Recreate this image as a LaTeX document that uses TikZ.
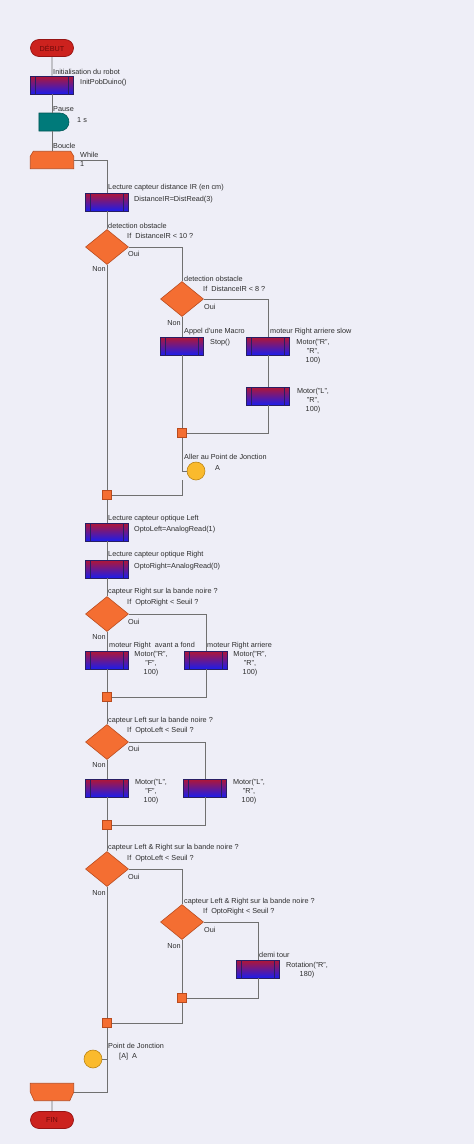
\documentclass[tikz,border=0pt]{standalone}
\usepackage{fontspec}
\setmainfont{Liberation Sans}
\usetikzlibrary{shapes.geometric, shapes.misc, positioning}

\definecolor{bgcol}{RGB}{238,238,247}
\definecolor{wirecol}{RGB}{112,112,112}
\definecolor{txtcol}{RGB}{45,45,45}
\definecolor{termfill}{RGB}{204,34,30}
\definecolor{termline}{RGB}{150,20,20}
\definecolor{termtext}{RGB}{110,10,10}
\definecolor{blktop}{RGB}{178,22,52}
\definecolor{blkbot}{RGB}{28,28,235}
\definecolor{blkline}{RGB}{40,30,100}
\definecolor{condfill}{RGB}{244,110,50}
\definecolor{condline}{RGB}{185,75,30}
\definecolor{delayfill}{RGB}{0,122,122}
\definecolor{delayline}{RGB}{0,85,85}
\definecolor{gotofill}{RGB}{250,186,45}
\definecolor{gotoline}{RGB}{185,130,20}

\tikzset{
    every node/.style={font=\fontsize{6.2}{7.7}\selectfont, text=txtcol, inner sep=0pt},
    wire/.style={draw=wirecol, line width=0.6pt},
    term/.style={rounded rectangle, draw=termline, fill=termfill, line width=0.6pt,
        minimum width=1.29cm, minimum height=0.51cm, text=termtext},
    blk/.style={rectangle, draw=blkline, top color=blktop, bottom color=blkbot, line width=0.5pt,
        minimum width=1.29cm, minimum height=0.54cm,
        path picture={
            \draw[blkline, line width=0.4pt] ([xshift=0.15cm]path picture bounding box.north west) -- ([xshift=0.15cm]path picture bounding box.south west);
            \draw[blkline, line width=0.4pt] ([xshift=-0.15cm]path picture bounding box.north east) -- ([xshift=-0.15cm]path picture bounding box.south east);
        }},
    cond/.style={diamond, draw=condline, fill=condfill, line width=0.5pt,
        minimum width=1.29cm, minimum height=1.05cm},
    junc/.style={rectangle, draw=condline, fill=condfill, line width=0.5pt, minimum size=0.27cm},
    gotopt/.style={circle, draw=gotoline, fill=gotofill, line width=0.5pt, minimum size=0.54cm},
    delay/.style={rounded rectangle, rounded rectangle left arc=none, draw=delayline, fill=delayfill,
        line width=0.5pt, minimum width=0.9cm, minimum height=0.54cm},
    loopbox/.style={rectangle, minimum width=1.29cm, minimum height=0.51cm},
    loopdraw/.style={draw=condline, fill=condfill, line width=0.5pt},
    lbl/.style={anchor=west},
    lblr/.style={anchor=east},
    code/.style={align=center}
}

\begin{document}
\begin{tikzpicture}[x=0.03cm, y=-0.03cm]
    \path[use as bounding box, fill=bgcol] (0,0) rectangle (474,1144);

    % start
    \node[term] (debut) at (52,48) {DÉBUT};
    \node[lbl] (linit) at (53,72) {Initialisation du robot};
    \node[blk] (init) at (52,85) {};
    \node[lbl] (tinit) at (80,83) {InitPobDuino()};
    \node[lbl] (lpause) at (53,109) {Pause};
    \node[delay] (pause) at (54,122) {};
    \node[lbl] (tpause) at (77,120) {1 s};
    \node[lbl] (lboucle) at (53,146) {Boucle};
    \node[loopbox] (boucle) at (52,160) {};
    \draw[loopdraw] (boucle.south west) -- ([yshift=-0.15cm]boucle.north west)
        -- ([xshift=0.09cm]boucle.north west) -- ([xshift=-0.09cm]boucle.north east)
        -- ([yshift=-0.15cm]boucle.north east) -- (boucle.south east) -- cycle;
    \node[lbl] (twhile) at (80,155) {While};
    \node[lbl] (tun) at (80,164) {1};

    % distance sensor
    \node[lbl] (ldist) at (108,188) {Lecture capteur distance IR (en cm)};
    \node[blk] (dist) at (107,202) {};
    \node[lbl] (tdist) at (134,200) {DistanceIR=DistRead(3)};
    \node[lbl] (lobst) at (108,226) {detection obstacle};
    \node[lbl] (tobst) at (127,236) {If~~DistanceIR < 10 ?};
    \node[cond] (obst) at (107,247) {};
    \node[lbl] (oui1) at (128,254) {Oui};
    \node[lblr] (non1) at (106,269) {Non};

    \node[lbl] (lobstb) at (184,279) {detection obstacle};
    \node[lbl] (tobstb) at (203,289) {If~~DistanceIR < 8 ?};
    \node[cond] (obstb) at (182,299) {};
    \node[lbl] (oui2) at (204,307) {Oui};
    \node[lblr] (non2) at (181,323) {Non};

    \node[lbl] (lstop) at (184,332) {Appel d'une Macro};
    \node[blk] (stop) at (182,346) {};
    \node[lbl] (tstop) at (210,343) {Stop()};
    \node[lbl] (lback) at (270,332) {moteur Right arriere slow};
    \node[blk] (backa) at (268,346) {};
    \node[code] (tbacka) at (313,352) {Motor("R",\\"R",\\100)};
    \node[blk] (backb) at (268,396) {};
    \node[code] (tbackb) at (313,401) {Motor("L",\\"R",\\100)};

    \node[junc] (ja) at (182,433) {};
    \node[lbl] (laller) at (184,457) {Aller au Point de Jonction};
    \node[gotopt] (aller) at (196,471) {};
    \node[lbl] (taller) at (215,468) {A};
    \coordinate (allerout) at (182,480);
    \node[junc] (jb) at (107,495) {};

    % optical sensors
    \node[lbl] (loptl) at (108,519) {Lecture capteur optique Left};
    \node[blk] (optl) at (107,532) {};
    \node[lbl] (toptl) at (134,530) {OptoLeft=AnalogRead(1)};
    \node[lbl] (loptr) at (108,555) {Lecture capteur optique Right};
    \node[blk] (optr) at (107,569) {};
    \node[lbl] (toptr) at (134,567) {OptoRight=AnalogRead(0)};

    % right sensor test
    \node[lbl] (lcr) at (108,592) {capteur Right sur la bande noire ?};
    \node[lbl] (tcr) at (127,603) {If~~OptoRight < Seuil ?};
    \node[cond] (cr) at (107,614) {};
    \node[lbl] (oui3) at (128,622) {Oui};
    \node[lblr] (non3) at (106,637) {Non};
    \node[lbl] (lavr) at (109,646) {moteur Right~~avant a fond};
    \node[blk] (avr) at (107,660) {};
    \node[code] (tavr) at (151,664) {Motor("R",\\"F",\\100)};
    \node[lbl] (larr) at (207,646) {moteur Right arriere};
    \node[blk] (arr) at (206,660) {};
    \node[code] (tarr) at (250,664) {Motor("R",\\"R",\\100)};
    \node[junc] (jc) at (107,697) {};

    % left sensor test
    \node[lbl] (lcl) at (108,721) {capteur Left sur la bande noire ?};
    \node[lbl] (tcl) at (127,731) {If~~OptoLeft < Seuil ?};
    \node[cond] (cl) at (107,742) {};
    \node[lbl] (oui4) at (128,749) {Oui};
    \node[lblr] (non4) at (106,765) {Non};
    \node[blk] (avl) at (107,788) {};
    \node[code] (tavl) at (151,792) {Motor("L",\\"F",\\100)};
    \node[blk] (arl) at (205,788) {};
    \node[code] (tarl) at (249,792) {Motor("L",\\"R",\\100)};
    \node[junc] (jd) at (107,825) {};

    % both sensors test
    \node[lbl] (lclr) at (108,848) {capteur Left \& Right sur la bande noire ?};
    \node[lbl] (tclr) at (127,859) {If~~OptoLeft < Seuil ?};
    \node[cond] (clr) at (107,869) {};
    \node[lbl] (oui5) at (128,877) {Oui};
    \node[lblr] (non5) at (106,893) {Non};
    \node[lbl] (lclrb) at (184,902) {capteur Left \& Right sur la bande noire ?};
    \node[lbl] (tclrb) at (203,912) {If~~OptoRight < Seuil ?};
    \node[cond] (clrb) at (182,922) {};
    \node[lbl] (oui6) at (204,930) {Oui};
    \node[lblr] (non6) at (181,946) {Non};
    \node[lbl] (ldemi) at (259,955) {demi tour};
    \node[blk] (demi) at (258,969) {};
    \node[code] (tdemi) at (307,970) {Rotation("R",\\180)};
    \node[junc] (je) at (182,998) {};
    \node[junc] (jf) at (107,1023) {};

    % end
    \node[lbl] (lpoint) at (108,1046) {Point de Jonction};
    \node[lbl] (tpoint) at (119,1057) {[A]~~A};
    \node[gotopt] (point) at (93,1059) {};
    \node[loopbox] (bouclefin) at (52,1092) {};
    \draw[loopdraw] (bouclefin.north west) -- ([yshift=0.26cm]bouclefin.south west)
        -- ([xshift=0.12cm]bouclefin.south west) -- ([xshift=-0.12cm]bouclefin.south east)
        -- ([yshift=0.26cm]bouclefin.south east) -- (bouclefin.north east) -- cycle;
    \node[term] (fin) at (52,1120) {FIN};

    % connectors
    \draw[wire] (debut) -- (init);
    \draw[wire] (init) -- (init |- pause.north);
    \draw[wire] (init |- pause.south) -- (boucle.north);
    \draw[wire] (boucle.east) -| (dist.north);
    \draw[wire] (dist) -- (obst);
    \draw[wire] (obst.east) -| (obstb.north);
    \draw[wire] (obst) -- (jb);
    \draw[wire] (obstb) -- (stop);
    \draw[wire] (obstb.east) -| (backa.north);
    \draw[wire] (backa) -- (backb);
    \draw[wire] (stop) -- (ja);
    \draw[wire] (backb.south) |- (ja.east);
    \draw[wire] (ja.south) |- (aller.west);
    \draw[wire] (allerout) |- (jb.east);
    \draw[wire] (jb) -- (optl);
    \draw[wire] (optl) -- (optr);
    \draw[wire] (optr) -- (cr);
    \draw[wire] (cr) -- (avr);
    \draw[wire] (cr.east) -| (arr.north);
    \draw[wire] (avr) -- (jc);
    \draw[wire] (arr.south) |- (jc.east);
    \draw[wire] (jc) -- (cl);
    \draw[wire] (cl) -- (avl);
    \draw[wire] (cl.east) -| (arl.north);
    \draw[wire] (avl) -- (jd);
    \draw[wire] (arl.south) |- (jd.east);
    \draw[wire] (jd) -- (clr);
    \draw[wire] (clr.east) -| (clrb.north);
    \draw[wire] (clr) -- (jf);
    \draw[wire] (clrb) -- (je);
    \draw[wire] (clrb.east) -| (demi.north);
    \draw[wire] (demi.south) |- (je.east);
    \draw[wire] (je.south) |- (jf.east);
    \draw[wire] (point.east) -- (point.east -| jf);
    \draw[wire] (jf.south) |- (bouclefin.east);
    \draw[wire] (bouclefin.south) -- (fin);
\end{tikzpicture}
\end{document}
